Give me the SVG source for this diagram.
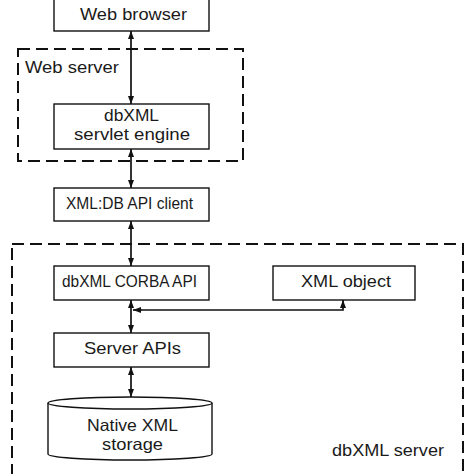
<svg xmlns="http://www.w3.org/2000/svg" width="474" height="474" viewBox="0 0 474 474">
<style>
.box{fill:#fff;stroke:#111;stroke-width:1.4}
.dash{fill:none;stroke:#111;stroke-width:2;stroke-dasharray:12 6}
.t{font-family:"Liberation Sans",Arial,sans-serif;font-size:16.5px;fill:#1a1a1a}
.ln{fill:none;stroke:#111;stroke-width:1.7}
</style>
<defs>
<marker id="ah" viewBox="0 0 8 6" refX="8" refY="3" markerWidth="8" markerHeight="6" markerUnits="userSpaceOnUse" orient="auto-start-reverse">
<path d="M0,0 L8,3 L0,6 z" fill="#111"/>
</marker>
</defs>
<rect width="474" height="474" fill="#fff"/>
<g id="webserver-group">
<rect class="dash" x="18" y="49" width="225" height="112"/>
<text class="t" x="25" y="73" textLength="94" lengthAdjust="spacingAndGlyphs">Web server</text>
</g>
<g id="dbxmlserver-group">
<rect class="dash" x="12" y="244" width="451" height="250"/>
<text class="t" x="332" y="456" textLength="112" lengthAdjust="spacingAndGlyphs">dbXML server</text>
</g>
<g id="connectors">
<line class="ln" x1="131" y1="31" x2="131" y2="104" marker-start="url(#ah)" marker-end="url(#ah)"/>
<line class="ln" x1="131" y1="149" x2="131" y2="188" marker-start="url(#ah)" marker-end="url(#ah)"/>
<line class="ln" x1="131" y1="221" x2="131" y2="266" marker-start="url(#ah)" marker-end="url(#ah)"/>
<line class="ln" x1="131" y1="300" x2="131" y2="333" marker-start="url(#ah)" marker-end="url(#ah)"/>
<line class="ln" x1="131" y1="367" x2="131" y2="397" marker-start="url(#ah)" marker-end="url(#ah)"/>
<polyline class="ln" points="142,310 343,310 343,300" marker-end="url(#ah)"/>
<line class="ln" x1="142" y1="310" x2="133" y2="310" marker-end="url(#ah)"/>
</g>
<g id="web-browser">
<rect class="box" x="54" y="-2" width="155" height="33"/>
<text class="t" x="80" y="20" textLength="107" lengthAdjust="spacingAndGlyphs">Web browser</text>
</g>
<g id="servlet-engine">
<rect class="box" x="54" y="104" width="155" height="45"/>
<text class="t" x="104" y="121" textLength="55" lengthAdjust="spacingAndGlyphs">dbXML</text>
<text class="t" x="74" y="140" textLength="116" lengthAdjust="spacingAndGlyphs">servlet engine</text>
</g>
<g id="xmldb-client">
<rect class="box" x="54" y="188" width="155" height="33"/>
<text class="t" x="66" y="209" textLength="127" lengthAdjust="spacingAndGlyphs">XML:DB API client</text>
</g>
<g id="corba-api">
<rect class="box" x="54" y="266" width="155" height="34"/>
<text class="t" x="62" y="287" textLength="135" lengthAdjust="spacingAndGlyphs">dbXML CORBA API</text>
</g>
<g id="xml-object">
<rect class="box" x="273" y="266" width="142" height="34"/>
<text class="t" x="301" y="287" textLength="90" lengthAdjust="spacingAndGlyphs">XML object</text>
</g>
<g id="server-apis">
<rect class="box" x="54" y="333" width="155" height="34"/>
<text class="t" x="84" y="354" textLength="97" lengthAdjust="spacingAndGlyphs">Server APIs</text>
</g>
<g id="native-storage">
<path class="box" d="M48,403 L48,454 A82,6 0 0 0 212,454 L212,403 A82,6 0 0 0 48,403 Z"/>
<path class="box" fill="none" d="M48,403 A82,6 0 0 0 212,403"/>
<text class="t" x="87" y="431" textLength="91" lengthAdjust="spacingAndGlyphs">Native XML</text>
<text class="t" x="102" y="450" textLength="61" lengthAdjust="spacingAndGlyphs">storage</text>
</g>
</svg>
